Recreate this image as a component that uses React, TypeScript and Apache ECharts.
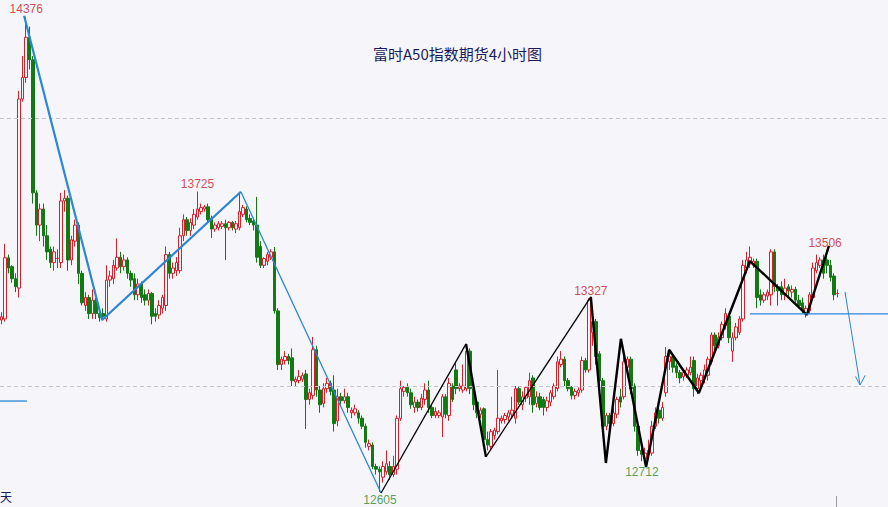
import React, { useEffect, useRef } from "react";
import * as echarts from "echarts";

// [open, close, low, high]
const candles: number[][] = [
  [13246, 13258, 13230, 13275], [13250, 13478, 13240, 13530], [13478, 13440, 13420, 13490], [13445, 13400, 13385, 13450],
  [13400, 13370, 13350, 13420], [13365, 14070, 13330, 14100], [14070, 14150, 14060, 14230], [14150, 14300, 14130, 14376],
  [14300, 14216, 14180, 14340], [14216, 13720, 13680, 14230], [13720, 13600, 13560, 13730], [13600, 13660, 13540, 13680],
  [13660, 13560, 13520, 13680], [13560, 13500, 13470, 13600], [13510, 13460, 13440, 13520], [13460, 13500, 13430, 13520],
  [13475, 13476, 13440, 13510], [13460, 13690, 13440, 13720], [13690, 13700, 13650, 13730], [13700, 13470, 13430, 13710],
  [13470, 13545, 13450, 13560], [13540, 13600, 13520, 13620], [13600, 13420, 13380, 13610], [13420, 13310, 13300, 13430],
  [13300, 13330, 13280, 13350], [13330, 13270, 13250, 13340], [13270, 13320, 13250, 13360], [13320, 13270, 13250, 13330],
  [13270, 13255, 13240, 13290], [13270, 13260, 13245, 13290], [13250, 13395, 13240, 13450], [13395, 13410, 13370, 13430],
  [13400, 13450, 13380, 13470], [13440, 13480, 13430, 13550], [13480, 13445, 13420, 13500], [13445, 13470, 13430, 13490],
  [13470, 13420, 13400, 13480], [13420, 13395, 13370, 13430], [13400, 13340, 13320, 13420], [13340, 13380, 13320, 13400],
  [13380, 13330, 13310, 13390], [13340, 13320, 13300, 13360], [13320, 13345, 13300, 13360], [13345, 13260, 13230, 13350],
  [13270, 13260, 13240, 13290], [13265, 13300, 13250, 13320], [13290, 13330, 13270, 13340], [13300, 13490, 13280, 13520],
  [13490, 13420, 13400, 13500], [13420, 13440, 13400, 13460], [13430, 13460, 13410, 13480], [13430, 13560, 13420, 13590],
  [13560, 13620, 13540, 13640], [13620, 13580, 13560, 13630], [13580, 13610, 13560, 13625], [13600, 13640, 13585, 13660],
  [13630, 13660, 13620, 13725], [13650, 13665, 13640, 13680], [13660, 13668, 13650, 13675], [13668, 13620, 13610, 13680],
  [13625, 13585, 13552, 13635], [13585, 13600, 13575, 13610], [13590, 13605, 13580, 13615], [13595, 13605, 13585, 13615],
  [13605, 13590, 13470, 13620], [13590, 13610, 13580, 13615], [13610, 13590, 13580, 13615], [13585, 13605, 13570, 13615],
  [13590, 13650, 13580, 13720], [13640, 13665, 13630, 13675], [13660, 13620, 13610, 13670], [13625, 13610, 13600, 13640],
  [13615, 13600, 13580, 13625], [13600, 13480, 13460, 13705], [13520, 13450, 13440, 13540], [13450, 13475, 13440, 13480],
  [13465, 13490, 13450, 13500], [13480, 13500, 13470, 13510], [13500, 13280, 13270, 13518], [13280, 13080, 13060, 13290],
  [13080, 13100, 13060, 13110], [13095, 13110, 13080, 13130], [13110, 13095, 13080, 13120], [13105, 13020, 13000, 13140],
  [13015, 13025, 13000, 13035], [13020, 13035, 13010, 13060], [13025, 13040, 13015, 13050], [13045, 12950, 12840, 13060],
  [12950, 12975, 12930, 12990], [12965, 13135, 12950, 13183], [13135, 12985, 12960, 13150], [12985, 12930, 12900, 13000],
  [12935, 12990, 12920, 13010], [12990, 13010, 12975, 13030], [13010, 12980, 12965, 13020], [12985, 12860, 12830, 13040],
  [12870, 12960, 12850, 12990], [12960, 12945, 12930, 12975], [12945, 12960, 12935, 12990], [12960, 12920, 12900, 12975],
  [12900, 12910, 12880, 12920], [12900, 12915, 12890, 12930], [12900, 12880, 12860, 12910], [12880, 12850, 12840, 12890],
  [12850, 12790, 12770, 12860], [12775, 12785, 12760, 12800], [12780, 12700, 12690, 12790], [12700, 12690, 12670, 12710],
  [12690, 12680, 12605, 12700], [12660, 12700, 12640, 12720], [12680, 12710, 12670, 12760], [12700, 12670, 12650, 12720],
  [12670, 12700, 12660, 12740], [12690, 12880, 12670, 12890], [12880, 12990, 12870, 13020], [12980, 12995, 12960, 13000],
  [12995, 12975, 12960, 13010], [12975, 12930, 12915, 12990], [12920, 12940, 12900, 12960], [12940, 12920, 12905, 12950],
  [12920, 12955, 12910, 12970], [12950, 12985, 12930, 13010], [12985, 12920, 12900, 13020], [12920, 12890, 12880, 12930],
  [12890, 12905, 12880, 12920], [12890, 12900, 12880, 12910], [12885, 12960, 12810, 12970], [12960, 12895, 12880, 12970],
  [12890, 13010, 12870, 13030], [13000, 12950, 12940, 13010], [13060, 12990, 12970, 13090], [12990, 13000, 12980, 13010],
  [12985, 13000, 12975, 13080], [12990, 13130, 12980, 13150], [13130, 12990, 12970, 13140], [12990, 12930, 12910, 13000],
  [12940, 12900, 12880, 12950], [12895, 12910, 12880, 12920], [12915, 12800, 12780, 12920], [12800, 12780, 12760, 12830],
  [12775, 12830, 12760, 12840], [12815, 12835, 12800, 12845], [12830, 12880, 12820, 13060], [12870, 12880, 12860, 12890],
  [12875, 12890, 12860, 12900], [12885, 12900, 12870, 12910], [12895, 12910, 12880, 12960], [12880, 12990, 12860, 13000],
  [12990, 12940, 12930, 13000], [12930, 12960, 12910, 12980], [12955, 12995, 12940, 13000], [12960, 13020, 12930, 13050],
  [13030, 12930, 12900, 13040], [12935, 12960, 12920, 12980], [12960, 12920, 12910, 12975], [12950, 12920, 12890, 12960],
  [12920, 12945, 12905, 12960], [12940, 12975, 12925, 12985], [12960, 13000, 12950, 13010], [12990, 13090, 12980, 13110],
  [13080, 13100, 13070, 13130], [13100, 13020, 13000, 13110], [13020, 12990, 12980, 13030], [12995, 12965, 12950, 13000],
  [12965, 12980, 12950, 12990], [12975, 12985, 12960, 12995], [12985, 13095, 12975, 13110], [13095, 13060, 13050, 13105],
  [13060, 13320, 13050, 13327], [13200, 13240, 13150, 13280], [13240, 13110, 13080, 13250], [13120, 13020, 13000, 13130],
  [13020, 12850, 12830, 13030], [12850, 12890, 12835, 12900], [12890, 12860, 12840, 12900], [12860, 12900, 12850, 12920],
  [12895, 12950, 12880, 12960], [12960, 12940, 12920, 12990], [12960, 13090, 12950, 13110], [13070, 13100, 13050, 13110],
  [13100, 12990, 12970, 13110], [13000, 12850, 12830, 13010], [12850, 12760, 12740, 12860], [12760, 12745, 12720, 12775],
  [12730, 12750, 12712, 12770], [12745, 12760, 12730, 12800], [12750, 12850, 12740, 12870], [12850, 12900, 12840, 12920],
  [12910, 12880, 12860, 12920], [12880, 12920, 12870, 12940], [12975, 13110, 12960, 13145], [13090, 13110, 13060, 13130],
  [13110, 13070, 13050, 13120], [13075, 13050, 13030, 13085], [13050, 13030, 13010, 13060], [13035, 13050, 13020, 13060],
  [13040, 13060, 13030, 13070], [13050, 13070, 13040, 13110], [13095, 12990, 12960, 13110], [12990, 13030, 12970, 13045],
  [13020, 13040, 13000, 13050], [13030, 13060, 13010, 13080], [13040, 13100, 13020, 13110], [13090, 13190, 13080, 13200],
  [13190, 13150, 13130, 13200], [13150, 13180, 13140, 13200], [13180, 13230, 13170, 13240], [13225, 13270, 13210, 13290],
  [13260, 13180, 13160, 13270], [13130, 13180, 13090, 13200], [13180, 13220, 13170, 13235], [13200, 13250, 13190, 13260],
  [13250, 13450, 13240, 13470], [13440, 13470, 13420, 13500], [13455, 13480, 13440, 13520], [13450, 13465, 13440, 13475],
  [13465, 13330, 13290, 13475], [13340, 13320, 13300, 13360], [13320, 13340, 13310, 13350], [13335, 13350, 13320, 13360],
  [13340, 13500, 13300, 13510], [13500, 13370, 13350, 13510], [13370, 13355, 13300, 13380], [13370, 13340, 13320, 13390],
  [13340, 13365, 13320, 13400], [13370, 13355, 13330, 13380], [13350, 13360, 13330, 13375], [13360, 13320, 13310, 13370],
  [13320, 13300, 13290, 13340], [13310, 13280, 13270, 13330], [13270, 13290, 13255, 13300], [13280, 13340, 13270, 13350],
  [13330, 13440, 13320, 13460], [13430, 13460, 13420, 13490], [13450, 13470, 13440, 13480], [13470, 13420, 13400, 13490],
  [13470, 13450, 13420, 13506], [13450, 13405, 13390, 13470], [13410, 13340, 13320, 13420], [13345, 13345, 13330, 13360],
];

const SLOTS = 254;
const categories: string[] = Array.from({ length: SLOTS }, (_, i) => String(i + 1));

// trend-line vertices: [slot index, price]
const blueThick: number[][] = [[6.4, 14380], [28.7, 13246], [68.4, 13724]];
const blueThin: number[][] = [[68.4, 13724], [108.5, 12601]];
const blackThinA: number[][] = [[108.5, 12601], [132.8, 13157]];
const blackThickA: number[][] = [[132.8, 13157], [138.5, 12736]];
const blackThinB: number[][] = [[138.5, 12736], [168.5, 13332]];
const blackThickB: number[][] = [
  [168.5, 13332], [172.8, 12713], [177.1, 13176], [184.3, 12698], [190.9, 13135],
  [199.4, 12974], [214.0, 13466], [230.3, 13265], [236.6, 13522],
];
const supportLine: number[][] = [[214.0, 13269], [253.5, 13269]];
const leftLine: number[][] = [[-0.5, 12944], [7.2, 12944]];
const arrowShaft: number[][] = [[241.2, 13351], [243.2, 13190], [245.5, 13004]];
const arrowHead: number[][] = [[244.2, 13035], [245.5, 13004], [247.0, 13040]];
const gridPrices: number[] = [14000, 13000];

// extreme labels: [slot index, price, 1 = high / 0 = low]
const extremes: number[][] = [
  [7, 14376, 1], [56, 13725, 1], [168.5, 13327, 1], [235.5, 13506, 1],
  [108.2, 12605, 0], [183.1, 12712, 0],
];

const BG = "#f5f5fa";
const RED = "#dc1e28";
const GREEN = "#137a13";
const BLUE = "#2b86d4";

export default function App() {
  const ref = useRef<HTMLDivElement>(null);
  useEffect(() => {
    if (!ref.current) return;
    const chart = echarts.init(ref.current, undefined, { renderer: "svg" });
    const line = (data: number[][], color: string, width: number) => ({
      type: "line",
      xAxisIndex: 1,
      yAxisIndex: 0,
      data,
      symbol: "none",
      silent: true,
      lineStyle: { color, width },
      z: 5,
    });
    chart.setOption({
      animation: false,
      backgroundColor: BG,
      title: {
        text: "富时A50指数期货4小时图",
        left: 368,
        top: 41,
        textStyle: {
          fontFamily: "'Noto Sans CJK SC', sans-serif",
          fontSize: 15,
          fontWeight: "normal",
          color: "#1b1b5c",
        },
      },
      grid: { left: 0, right: 0, top: 0, bottom: 0 },
      xAxis: [
        {
          type: "category",
          data: categories,
          boundaryGap: true,
          show: false,
        },
        {
          type: "value",
          min: -0.5,
          max: SLOTS - 0.5,
          show: false,
        },
      ],
      yAxis: {
        type: "value",
        min: 12549,
        max: 14439,
        show: false,
        splitLine: { show: false },
      },
      series: [
        {
          type: "candlestick",
          xAxisIndex: 0,
          data: candles,
          barWidth: 3,
          itemStyle: {
            color: BG,
            color0: GREEN,
            borderColor: RED,
            borderColor0: GREEN,
            borderWidth: 1,
          },
          markLine: {
            silent: true,
            symbol: ["none", "none"],
            label: { show: false },
            lineStyle: { color: "#c6c6cc", type: [4, 3], width: 1 },
            data: gridPrices.map((p) => ({ yAxis: p })),
          },
        },
        line(blueThick, BLUE, 2.2),
        line(blueThin, BLUE, 1.3),
        line(blackThinA, "#000", 1.3),
        line(blackThickA, "#000", 2.4),
        line(blackThinB, "#000", 1.3),
        line(blackThickB, "#000", 2.4),
        line(supportLine, BLUE, 1.3),
        line(leftLine, BLUE, 1.3),
        line(arrowShaft, BLUE, 1),
        line(arrowHead, BLUE, 1),
        {
          type: "scatter",
          xAxisIndex: 1,
          symbolSize: 1,
          itemStyle: { color: "rgba(0,0,0,0)" },
          silent: true,
          z: 6,
          data: extremes.map((e) => ({
            value: [e[0], e[1]],
            label: {
              show: true,
              position: e[2] ? "top" : "bottom",
              distance: e[2] ? 1 : 2,
              color: e[2] ? "#c8202c" : "#2e8a2e",
              fontSize: 12,
              fontFamily: "'Liberation Sans', Arial, sans-serif",
              formatter: (p: any) => String(p.value[1]),
            },
          })),
        },
      ],
      graphic: [
        {
          type: "text",
          left: 0,
          top: 490,
          style: { text: "天", fill: "#1b1b5c", fontSize: 12, fontFamily: "'Noto Sans CJK SC', sans-serif" },
        },
        {
          type: "line",
          shape: { x1: 836.5, y1: 496, x2: 836.5, y2: 507 },
          style: { stroke: "#9a9aa0", lineWidth: 1 },
        },
      ],
    });
    return () => chart.dispose();
  }, []);
  return (
    <div
      ref={ref}
      style={{ position: "fixed", left: 0, top: 0, width: 888, height: 507 }}
    />
  );
}
